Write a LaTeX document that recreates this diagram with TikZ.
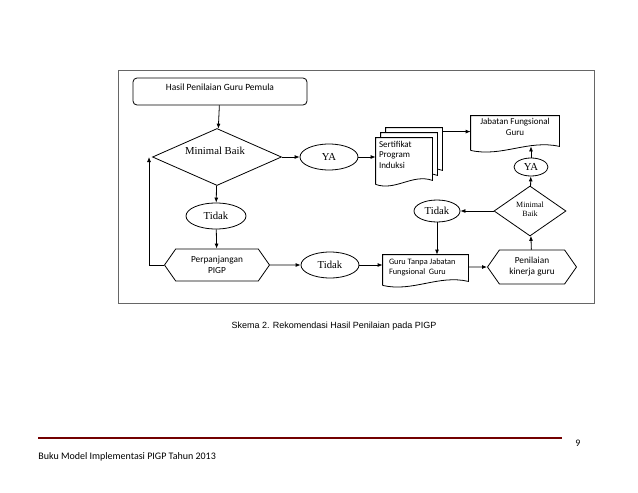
\documentclass[tikz,border=0pt]{standalone}
\usepackage{fontspec}
\setmainfont{Liberation Serif}
\newfontfamily\calf{Carlito}
\newfontfamily\arif{Liberation Sans}
\usetikzlibrary{shapes.geometric,shapes.symbols,calc,arrows.meta}
\tikzset{
 every path/.style={line width=0.8pt},
 arr/.style={-{Latex[length=5pt,width=4pt]}},
 ell/.style={ellipse,draw,inner sep=0pt,font=\fontsize{10.7}{12}\selectfont},
 dia/.style={diamond,draw,inner sep=0pt},
 hex/.style={signal,signal to=west and east,signal pointer angle=110,draw,font=\calf\fontsize{9.3}{11}\selectfont,align=center,inner sep=1pt},
 doc/.style={inner sep=0pt,font=\calf\fontsize{9}{10.5}\selectfont,align=left},
}
\newcommand\docout[2][]{\filldraw[fill=white,#1] ($(#2.south west)+(0,2)$) -- (#2.north west) -- (#2.north east) -- ($(#2.south east)+(0,-2)$) .. controls ($(#2.south east)!0.35!(#2.south west)+(0,-9)$) and ($(#2.south east)!0.65!(#2.south west)+(0,9)$) .. ($(#2.south west)+(0,2)$);}
\begin{document}
\begin{tikzpicture}[x=1pt,y=-1pt]
\useasboundingbox (0,0) rectangle (638,493);
\draw[line width=1pt,gray!80!black] (118,70) rectangle (594,303);
% left column
\node[draw,rounded corners=4pt,minimum width=174pt,minimum height=27pt] (hasil) at (220,91.5) {};
\node[font=\calf\fontsize{9.5}{11}\selectfont] at (220,87) {Hasil Penilaian Guru Pemula};
\node[dia,minimum width=129pt,minimum height=57pt] (mb1) at (217,157) {};
\node[font=\fontsize{10.7}{12}\selectfont] at (215,151) {Minimal Baik};
\node[ell,minimum width=58pt,minimum height=26pt] (ya1) at (329,157) {YA};
\node[ell,minimum width=60pt,minimum height=26pt] (tidak1) at (216,216) {Tidak};
\node[hex,minimum width=105pt,minimum height=32pt] (perp) at (217,265) {Perpanjangan\\PIGP};
\node[ell,minimum width=58pt,minimum height=26pt] (tidak3) at (330,265) {Tidak};
% sertifikat multidoc
\node[doc,minimum width=56pt,minimum height=44pt] (s3) at (414,150) {};
\node[doc,minimum width=56pt,minimum height=44pt] (s2) at (409,155) {};
\node[doc,minimum width=56pt,minimum height=44pt] (sert) at (404,160) {};
\docout{s3}\docout{s2}\docout{sert}
\node[doc,anchor=north west] at ($(sert.north west)+(3,3)$) {Sertifikat\\Program\\Induksi};
% jabatan
\node[doc,minimum width=88pt,minimum height=32pt] (jab) at (515,132) {};
\docout{jab}
\node[font=\calf\fontsize{9}{10.5}\selectfont,align=center] at (515,127) {Jabatan Fungsional\\Guru};
\node[ell,minimum width=34pt,minimum height=18pt] (ya2) at (531,167) {YA};
\node[dia,minimum width=72pt,minimum height=50pt] (mb2) at (530,211) {};
\node[font=\fontsize{8}{9}\selectfont,align=center] at (530,209) {Minimal\\Baik};
\node[ell,minimum width=46pt,minimum height=22pt] (tidak2) at (437,211) {Tidak};
\node[doc,minimum width=85pt,minimum height=28pt] (guru) at (425.5,269) {};
\docout{guru}
\node[doc,anchor=north west,font=\calf\fontsize{8.3}{10}\selectfont] at ($(guru.north west)+(6,4)$) {Guru Tanpa Jabatan\\Fungsional\ \ Guru};
\node[hex,minimum width=89pt,minimum height=34pt] (pen) at (532,267) {Penilaian\\kinerja guru};
% connectors
\draw[arr] (hasil) -- (mb1);
\draw[arr] (mb1) -- (ya1);
\draw[arr] (ya1) -- (ya1 -| sert.west);
\coordinate (c1) at ($(s3.north east)+(0,4)$);
\draw[arr] (c1) -- (c1 -| jab.west);
\draw[arr] (mb1) -- (tidak1);
\draw[arr] (tidak1) -- (perp);
\draw[arr] (perp) -- (tidak3);
\draw[arr] (tidak3) -- (tidak3 -| guru.west);
\draw[arr] (perp.west) -- ++(-15,0) coordinate (c2) -- (c2 |- mb1.west);
\draw[arr] (guru.east |- pen) -- (pen);
\draw[arr] (pen) -- (mb2);
\draw[arr] (mb2) -- (ya2);
\draw[arr] (ya2) -- ($(jab.south)+(16,-2)$);
\draw[arr] (mb2) -- (tidak2);
\draw[arr] (tidak2) -- (tidak2 |- guru.north);
% caption and footer
\node[font=\arif\fontsize{9}{10}\selectfont] (cap) at (334,326) {Skema 2. Rekomendasi Hasil Penilaian pada PIGP};
\draw[line width=2.2pt,red!45!black] (38,438) -- (562,438);
\node[font=\calf\fontsize{10}{11}\selectfont,anchor=west,inner sep=0pt] (foot) at (38,457) {Buku Model Implementasi PIGP Tahun 2013};
\node[font=\calf\fontsize{10}{11}\selectfont] (pg) at (578,443) {9};
\end{tikzpicture}
\end{document}
